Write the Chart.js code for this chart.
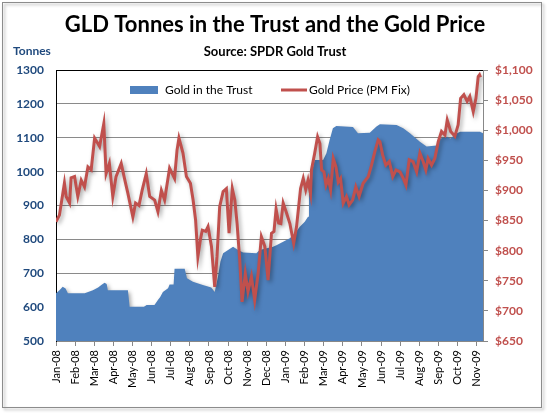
<!DOCTYPE html>
<html>
<head>
<meta charset="utf-8">
<title>GLD Tonnes in the Trust and the Gold Price</title>
<script src="https://cdn.jsdelivr.net/npm/chart.js@4.4.0/dist/chart.umd.min.js"></script>
<style>
    html, body { margin: 0; padding: 0; background: #fff; }
    #wrap { position: relative; width: 548px; height: 413px; }
</style>
</head>
<body>
<div id="wrap"><canvas id="goldChart"></canvas></div>
<script>
// month labels on the x axis (tick i = start of month i, counted from Jan 2008)
const monthLabels = ['Jan-08', 'Feb-08', 'Mar-08', 'Apr-08', 'May-08', 'Jun-08', 'Jul-08', 'Aug-08',
    'Sep-08', 'Oct-08', 'Nov-08', 'Dec-08', 'Jan-09', 'Feb-09', 'Mar-09', 'Apr-09', 'May-09',
    'Jun-09', 'Jul-09', 'Aug-09', 'Sep-09', 'Oct-09', 'Nov-09'];

// GLD holdings (tonnes), position in months since Jan 2008
const tonnesMonths = [0, 0.18, 0.35, 0.5, 0.62, 1.5, 1.93, 2.2, 2.37, 2.54, 2.65, 2.71, 3.76, 3.85,
    4.6, 4.74, 5.15, 5.33, 5.45, 5.59, 5.86, 5.94, 6.15, 6.2, 6.73, 6.85, 7.16, 7.68, 8.12, 8.3,
    8.47, 8.6, 8.74, 9.0, 9.26, 9.52, 9.78, 10.48, 10.65, 11.35, 11.53, 11.88, 12.23, 12.49, 12.75,
    13.01, 13.18, 13.23, 13.36, 13.53, 13.97, 14.14, 14.31, 14.48, 14.66, 15.53, 15.79, 16.41,
    16.76, 16.94, 17.81, 18.16, 18.51, 19.03, 19.38, 19.9, 20.1, 20.45, 20.62, 20.97, 21.14,
    22.17, 22.33];
const tonnesValues = [641, 650, 660, 655, 641, 641, 650, 658, 665, 672, 668, 650, 650, 601,
    601, 606, 606, 621, 630, 645, 656, 667, 667, 713, 713, 685, 675, 665, 658, 645,
    690, 735, 759, 769, 778, 769, 761, 759, 769, 778, 783, 793, 803, 818, 837,
    852, 867, 936, 995, 1034, 1034, 1054, 1093, 1128, 1135, 1132, 1113, 1115,
    1133, 1140, 1138, 1128, 1113, 1088, 1074, 1077, 1098, 1103, 1098, 1113, 1118,
    1118, 1113];

// gold price, London PM fix (USD)
const priceMonths = [0, 0.18, 0.44, 0.53, 0.71, 0.79, 0.97, 1.14, 1.32, 1.49, 1.67, 1.84, 2.02,
    2.28, 2.5, 2.62, 2.79, 2.97, 3.14, 3.41, 3.58, 3.76, 4.02, 4.16, 4.34, 4.51, 4.72, 4.9,
    5.16, 5.33, 5.51, 5.68, 5.94, 6.2, 6.33, 6.43, 6.64, 6.82, 7.03, 7.17, 7.3, 7.42, 7.55,
    7.65, 7.83, 7.95, 8.13, 8.3, 8.42, 8.56, 8.74, 8.91, 9.05, 9.22, 9.35, 9.47, 9.61, 9.73,
    9.9, 10.04, 10.22, 10.39, 10.57, 10.74, 10.92, 11.09, 11.27, 11.4, 11.51, 11.64, 11.76,
    11.88, 12.06, 12.23, 12.43, 12.58, 12.79, 12.93, 13.06, 13.18, 13.31, 13.36, 13.53, 13.68,
    13.8, 13.89, 14.01, 14.12, 14.24, 14.36, 14.5, 14.64, 14.76, 14.88, 15.02, 15.19, 15.33,
    15.51, 15.68, 15.85, 16.06, 16.33, 16.5, 16.67, 16.85, 16.94, 17.08, 17.25, 17.43, 17.61,
    17.78, 17.99, 18.16, 18.3, 18.47, 18.67, 18.86, 19.03, 19.2, 19.34, 19.46, 19.64, 19.81,
    19.99, 20.16, 20.34, 20.46, 20.64, 20.86, 21.03, 21.16, 21.33, 21.5, 21.64, 21.82, 21.96,
    22.08, 22.15, 22.2];
const priceValues = [848, 859, 912, 890, 879, 921, 923, 890, 917, 906, 939, 934, 987,
    973, 1011, 928, 945, 890, 923, 945, 920, 895, 856, 879, 875, 901, 928, 890,
    884, 865, 900, 884, 937, 920, 967, 987, 962, 923, 912, 884, 851, 790, 818,
    834, 832, 840, 807, 740, 790, 873, 898, 903, 829, 903, 884, 845, 784, 715,
    762, 732, 757, 718, 762, 823, 807, 751, 829, 832, 869, 846, 845,
    879, 862, 845, 812, 840, 903, 920, 901, 917, 895, 934, 962, 989,
    978, 934, 931, 909, 920, 901, 953, 939, 914, 920, 879, 890, 876,
    884, 906, 890, 912, 923, 942, 964, 984, 981, 959, 942, 948, 923,
    934, 931, 920, 909, 951, 948, 931, 962, 948, 934, 953, 942, 953,
    981, 998, 992, 1017, 998, 990, 1009, 1053, 1059, 1048, 1056, 1031, 1053,
    1089, 1092, 1088];

const BLUE = '#4F81BD';
const RED = '#C0504D';
const AXIS_BLUE = '#1F497D';
const FONT = 'Lato, "Open Sans", sans-serif';

Chart.defaults.font.family = FONT;

// soft Excel-like shadow under the area and the line.
// filler is re-registered after this one so the fill gets the shadow too
const shadowPlugin = {
    id: 'softShadow',
    beforeDatasetDraw(chart) {
        const ctx = chart.ctx;
        ctx.save();
        ctx.shadowColor = 'rgba(0,0,0,0.35)';
        ctx.shadowBlur = 4;
        ctx.shadowOffsetX = 2;
        ctx.shadowOffsetY = 2;
    },
    afterDatasetDraw(chart) {
        chart.ctx.restore();
    }
};
const fillerPlugin = Chart.registry.getPlugin('filler');
Chart.unregister(fillerPlugin);
Chart.register(shadowPlugin);
Chart.register(fillerPlugin);

// frame, titles, plot border and legend
const decorPlugin = {
    id: 'decor',
    beforeDraw(chart) {
        const ctx = chart.ctx;
        ctx.save();
        ctx.fillStyle = '#fff';
        ctx.fillRect(0, 0, chart.width, chart.height);
        ctx.shadowColor = 'rgba(0,0,0,0.35)';
        ctx.shadowBlur = 3;
        ctx.shadowOffsetX = 2;
        ctx.shadowOffsetY = 2;
        ctx.strokeStyle = '#8c8c8c';
        ctx.lineWidth = 1;
        ctx.strokeRect(2.5, 2.5, 539, 405);
        ctx.restore();

        ctx.save();
        ctx.fillStyle = '#000';
        ctx.textAlign = 'center';
        ctx.textBaseline = 'middle';
        ctx.font = 'bold 22px ' + FONT;
        ctx.fillText('GLD Tonnes in the Trust and the Gold Price', 275, 25);
        ctx.font = 'bold 13px ' + FONT;
        ctx.fillText('Source: SPDR Gold Trust', 275, 52);
        ctx.fillStyle = AXIS_BLUE;
        ctx.textAlign = 'left';
        ctx.font = 'bold 12px ' + FONT;
        ctx.fillText('Tonnes', 13, 51);
        ctx.restore();
    },
    afterDatasetsDraw(chart) {
        const ctx = chart.ctx;
        const a = chart.chartArea;
        ctx.save();
        ctx.strokeStyle = '#000';
        ctx.lineWidth = 1;
        ctx.beginPath();
        ctx.moveTo(a.left, Math.round(a.top) + 0.5);
        ctx.lineTo(a.right, Math.round(a.top) + 0.5);
        ctx.stroke();

        // legend inside the plot area
        const ly = 90;
        ctx.fillStyle = BLUE;
        ctx.fillRect(130, ly - 4, 28, 8);
        ctx.strokeStyle = RED;
        ctx.lineWidth = 3;
        ctx.beginPath();
        ctx.moveTo(281, ly);
        ctx.lineTo(307, ly);
        ctx.stroke();
        ctx.fillStyle = '#000';
        ctx.font = '12px ' + FONT;
        ctx.textBaseline = 'middle';
        ctx.fillText('Gold in the Trust', 165, ly);
        ctx.fillText('Gold Price (PM Fix)', 309, ly);
        ctx.restore();
    }
};

const tonnesData = tonnesMonths.map((m, i) => ({ x: m, y: tonnesValues[i] }));
const priceData = priceMonths.map((m, i) => ({ x: m, y: priceValues[i] }));

const ctx = document.getElementById('goldChart').getContext('2d');
new Chart(ctx, {
    type: 'line',
    data: {
        datasets: [{
            label: 'Gold Price (PM Fix)',
            data: priceData,
            yAxisID: 'y1',
            borderColor: RED,
            borderWidth: 3,
            pointRadius: 0,
            tension: 0,
            fill: false,
            order: 0
        }, {
            label: 'Gold in the Trust',
            data: tonnesData,
            yAxisID: 'y',
            borderWidth: 0,
            borderColor: BLUE,
            backgroundColor: BLUE,
            pointRadius: 0,
            tension: 0,
            fill: 'start',
            order: 1
        }]
    },
    options: {
        responsive: true,
        maintainAspectRatio: false,
        animation: false,
        layout: { padding: { top: 70, left: 0, right: 0, bottom: 0 } },
        plugins: {
            legend: { display: false },
            tooltip: { enabled: false }
        },
        scales: {
            x: {
                type: 'linear',
                min: 0,
                max: 22.33,
                afterFit: (scale) => { scale.height = 72; },
                grid: { drawOnChartArea: false, drawTicks: true, tickLength: 5, color: '#888' },
                border: { color: '#888' },
                ticks: {
                    stepSize: 1,
                    includeBounds: false,
                    autoSkip: false,
                    minRotation: 90,
                    maxRotation: 90,
                    padding: 4,
                    color: '#000',
                    font: { size: 11 },
                    callback: (v) => monthLabels[v] ?? ''
                }
            },
            y: {
                position: 'left',
                min: 500,
                max: 1300,
                afterFit: (scale) => { scale.width = 56; },
                grid: { color: '#8a8a8a', drawTicks: false },
                border: { color: '#000' },
                ticks: {
                    stepSize: 100,
                    padding: 12,
                    color: AXIS_BLUE,
                    font: { size: 12, weight: 'bold' },
                    callback: (v) => String(v)
                }
            },
            y1: {
                position: 'right',
                min: 650,
                max: 1100,
                afterFit: (scale) => { scale.width = 65; },
                grid: { drawOnChartArea: false, drawTicks: true, tickLength: 5, color: '#888' },
                border: { color: '#888' },
                ticks: {
                    stepSize: 50,
                    padding: 7,
                    color: RED,
                    font: { size: 12, weight: 'bold' },
                    callback: (v) => '$' + v.toLocaleString('en-US')
                }
            }
        }
    },
    plugins: [decorPlugin]
});
</script>
</body>
</html>
